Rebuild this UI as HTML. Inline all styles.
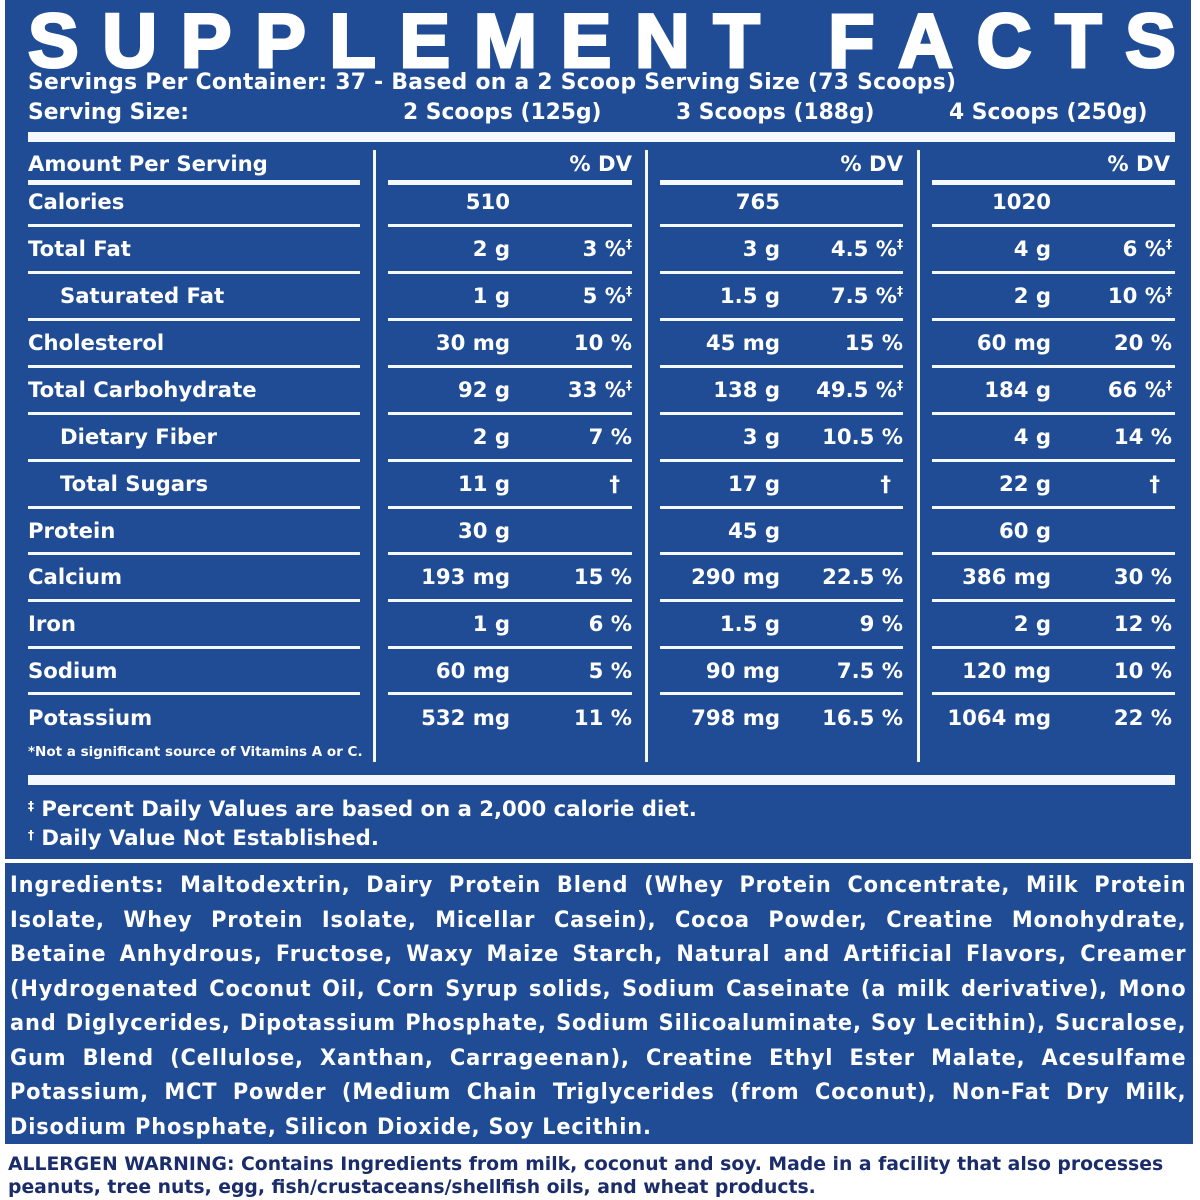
<!DOCTYPE html>
<html><head><meta charset="utf-8"><style>
*{margin:0;padding:0;box-sizing:border-box}
body{width:1200px;height:1200px;background:#fff;position:relative;overflow:hidden;font-family:"DejaVu Sans","Liberation Sans",sans-serif;font-weight:bold;color:#fff}
.p1{position:absolute;left:5px;top:0;width:1186px;height:859px;background:#1f4c94}
.p2{position:absolute;left:5px;top:863px;width:1188px;height:281px;background:#1f4c94}
.t{position:absolute;white-space:nowrap}
.title{position:absolute;left:28px;top:4px;width:1148px;height:76px;display:flex;justify-content:space-between;font-family:"Liberation Sans",sans-serif;font-size:76px;font-weight:900;line-height:76px;-webkit-text-stroke:3px #fff}
.hl{position:absolute;background:#f4f8ff}
.r{position:absolute;left:0;width:1200px;height:30px;line-height:30px;font-size:21.2px}
.r span{position:absolute;white-space:nowrap}
.a{right:690px}.b{right:568px}.c{right:420px}.d{right:297px}.e{right:149px}.f{right:28px}
sup{font-size:12px;vertical-align:top;line-height:20px}
.ing{position:absolute;left:10px;top:868px;font-size:22.5px;line-height:34.5px;text-align:justify;letter-spacing:0.9px;font-weight:bold;transform:scaleX(0.93);transform-origin:0 0;width:1265px}
.al{position:absolute;left:8px;top:1153px;color:#1a2c6a;font-size:18.8px;line-height:23px;font-weight:bold;white-space:nowrap}
</style></head><body>
<div class="p1"></div>
<div class="p2"></div>
<div class="title"><span>S</span><span>U</span><span>P</span><span>P</span><span>L</span><span>E</span><span>M</span><span>E</span><span>N</span><span>T</span><span>&nbsp;</span><span>F</span><span>A</span><span>C</span><span>T</span><span>S</span></div>
<div class="t" style="left:28px;top:70px;font-size:21.8px;letter-spacing:0.3px">Servings Per Container: 37 - Based on a 2 Scoop Serving Size (73 Scoops)</div>
<div class="t" style="left:28px;top:100px;font-size:21.8px">Serving Size:</div>
<div class="t" style="left:403px;top:100px;font-size:21.8px">2 Scoops (125g)</div>
<div class="t" style="left:676px;top:100px;font-size:21.8px">3 Scoops (188g)</div>
<div class="t" style="left:949px;top:100px;font-size:21.8px">4 Scoops (250g)</div>
<div class="hl" style="left:28px;top:132px;width:1147px;height:10px"></div>
<div class="hl" style="left:373px;top:150px;width:3px;height:612px"></div>
<div class="hl" style="left:645px;top:150px;width:3px;height:612px"></div>
<div class="hl" style="left:917px;top:150px;width:3px;height:612px"></div>
<div class="r" style="top:149px"><span style="left:28px">Amount Per Serving</span><span class="b">% DV</span><span class="d">% DV</span><span class="f" style="right:30px">% DV</span></div>
<div class="hl" style="left:28px;top:180px;width:332px;height:5px"></div>
<div class="hl" style="left:388px;top:180px;width:244px;height:5px"></div>
<div class="hl" style="left:660px;top:180px;width:243px;height:5px"></div>
<div class="hl" style="left:932px;top:180px;width:243px;height:5px"></div>

<div class="r" style="top:187px"><span style="left:28px">Calories</span><span class="a">510</span><span class="c">765</span><span class="e">1020</span></div>
<div class="r" style="top:234px"><span style="left:28px">Total Fat</span><span class="a">2 g</span><span class="b">3 %<sup>‡</sup></span><span class="c">3 g</span><span class="d">4.5 %<sup>‡</sup></span><span class="e">4 g</span><span class="f">6 %<sup>‡</sup></span></div>
<div class="r" style="top:281px"><span style="left:60px">Saturated Fat</span><span class="a">1 g</span><span class="b">5 %<sup>‡</sup></span><span class="c">1.5 g</span><span class="d">7.5 %<sup>‡</sup></span><span class="e">2 g</span><span class="f">10 %<sup>‡</sup></span></div>
<div class="r" style="top:328px"><span style="left:28px">Cholesterol</span><span class="a">30 mg</span><span class="b">10 %</span><span class="c">45 mg</span><span class="d">15 %</span><span class="e">60 mg</span><span class="f">20 %</span></div>
<div class="r" style="top:375px"><span style="left:28px">Total Carbohydrate</span><span class="a">92 g</span><span class="b">33 %<sup>‡</sup></span><span class="c">138 g</span><span class="d">49.5 %<sup>‡</sup></span><span class="e">184 g</span><span class="f">66 %<sup>‡</sup></span></div>
<div class="r" style="top:422px"><span style="left:60px">Dietary Fiber</span><span class="a">2 g</span><span class="b">7 %</span><span class="c">3 g</span><span class="d">10.5 %</span><span class="e">4 g</span><span class="f">14 %</span></div>
<div class="r" style="top:469px"><span style="left:60px">Total Sugars</span><span class="a">11 g</span><span class="b" style="right:580px">†</span><span class="c">17 g</span><span class="d" style="right:309px">†</span><span class="e">22 g</span><span class="f" style="right:40px">†</span></div>
<div class="r" style="top:516px"><span style="left:28px">Protein</span><span class="a">30 g</span><span class="c">45 g</span><span class="e">60 g</span></div>
<div class="r" style="top:562px"><span style="left:28px">Calcium</span><span class="a">193 mg</span><span class="b">15 %</span><span class="c">290 mg</span><span class="d">22.5 %</span><span class="e">386 mg</span><span class="f">30 %</span></div>
<div class="r" style="top:609px"><span style="left:28px">Iron</span><span class="a">1 g</span><span class="b">6 %</span><span class="c">1.5 g</span><span class="d">9 %</span><span class="e">2 g</span><span class="f">12 %</span></div>
<div class="r" style="top:656px"><span style="left:28px">Sodium</span><span class="a">60 mg</span><span class="b">5 %</span><span class="c">90 mg</span><span class="d">7.5 %</span><span class="e">120 mg</span><span class="f">10 %</span></div>
<div class="r" style="top:703px"><span style="left:28px">Potassium</span><span class="a">532 mg</span><span class="b">11 %</span><span class="c">798 mg</span><span class="d">16.5 %</span><span class="e">1064 mg</span><span class="f">22 %</span></div>

<div class="hl" style="left:28px;top:224px;width:332px;height:3px"></div><div class="hl" style="left:388px;top:224px;width:244px;height:3px"></div><div class="hl" style="left:660px;top:224px;width:243px;height:3px"></div><div class="hl" style="left:932px;top:224px;width:243px;height:3px"></div>
<div class="hl" style="left:28px;top:271px;width:332px;height:3px"></div><div class="hl" style="left:388px;top:271px;width:244px;height:3px"></div><div class="hl" style="left:660px;top:271px;width:243px;height:3px"></div><div class="hl" style="left:932px;top:271px;width:243px;height:3px"></div>
<div class="hl" style="left:28px;top:318px;width:332px;height:3px"></div><div class="hl" style="left:388px;top:318px;width:244px;height:3px"></div><div class="hl" style="left:660px;top:318px;width:243px;height:3px"></div><div class="hl" style="left:932px;top:318px;width:243px;height:3px"></div>
<div class="hl" style="left:28px;top:365px;width:332px;height:3px"></div><div class="hl" style="left:388px;top:365px;width:244px;height:3px"></div><div class="hl" style="left:660px;top:365px;width:243px;height:3px"></div><div class="hl" style="left:932px;top:365px;width:243px;height:3px"></div>
<div class="hl" style="left:28px;top:412px;width:332px;height:3px"></div><div class="hl" style="left:388px;top:412px;width:244px;height:3px"></div><div class="hl" style="left:660px;top:412px;width:243px;height:3px"></div><div class="hl" style="left:932px;top:412px;width:243px;height:3px"></div>
<div class="hl" style="left:28px;top:459px;width:332px;height:3px"></div><div class="hl" style="left:388px;top:459px;width:244px;height:3px"></div><div class="hl" style="left:660px;top:459px;width:243px;height:3px"></div><div class="hl" style="left:932px;top:459px;width:243px;height:3px"></div>
<div class="hl" style="left:28px;top:506px;width:332px;height:3px"></div><div class="hl" style="left:388px;top:506px;width:244px;height:3px"></div><div class="hl" style="left:660px;top:506px;width:243px;height:3px"></div><div class="hl" style="left:932px;top:506px;width:243px;height:3px"></div>
<div class="hl" style="left:28px;top:552px;width:332px;height:3px"></div><div class="hl" style="left:388px;top:552px;width:244px;height:3px"></div><div class="hl" style="left:660px;top:552px;width:243px;height:3px"></div><div class="hl" style="left:932px;top:552px;width:243px;height:3px"></div>
<div class="hl" style="left:28px;top:599px;width:332px;height:3px"></div><div class="hl" style="left:388px;top:599px;width:244px;height:3px"></div><div class="hl" style="left:660px;top:599px;width:243px;height:3px"></div><div class="hl" style="left:932px;top:599px;width:243px;height:3px"></div>
<div class="hl" style="left:28px;top:646px;width:332px;height:3px"></div><div class="hl" style="left:388px;top:646px;width:244px;height:3px"></div><div class="hl" style="left:660px;top:646px;width:243px;height:3px"></div><div class="hl" style="left:932px;top:646px;width:243px;height:3px"></div>
<div class="hl" style="left:28px;top:692px;width:332px;height:3px"></div><div class="hl" style="left:388px;top:692px;width:244px;height:3px"></div><div class="hl" style="left:660px;top:692px;width:243px;height:3px"></div><div class="hl" style="left:932px;top:692px;width:243px;height:3px"></div>

<div class="t" style="left:28px;top:744px;font-size:13.5px">*Not a significant source of Vitamins A or C.</div>
<div class="hl" style="left:28px;top:775px;width:1147px;height:10px"></div>
<div class="t" style="left:28px;top:796px;font-size:21.2px"><sup>‡</sup> Percent Daily Values are based on a 2,000 calorie diet.</div>
<div class="t" style="left:28px;top:825px;font-size:21.2px"><sup>†</sup> Daily Value Not Established.</div>

<div class="ing">Ingredients: Maltodextrin, Dairy Protein Blend (Whey Protein Concentrate, Milk Protein Isolate, Whey Protein Isolate, Micellar Casein), Cocoa Powder, Creatine Monohydrate, Betaine Anhydrous, Fructose, Waxy Maize Starch, Natural and Artificial Flavors, Creamer (Hydrogenated Coconut Oil, Corn Syrup solids, Sodium Caseinate (a milk derivative), Mono and Diglycerides, Dipotassium Phosphate, Sodium Silicoaluminate, Soy Lecithin), Sucralose, Gum Blend (Cellulose, Xanthan, Carrageenan), Creatine Ethyl Ester Malate, Acesulfame Potassium, MCT Powder (Medium Chain Triglycerides (from Coconut), Non-Fat Dry Milk, Disodium Phosphate, Silicon Dioxide, Soy Lecithin.</div>

<div class="al">ALLERGEN WARNING: Contains Ingredients from milk, coconut and soy. Made in a facility that also processes<br>peanuts, tree nuts, egg, fish/crustaceans/shellfish oils, and wheat products.</div>
</body></html>
